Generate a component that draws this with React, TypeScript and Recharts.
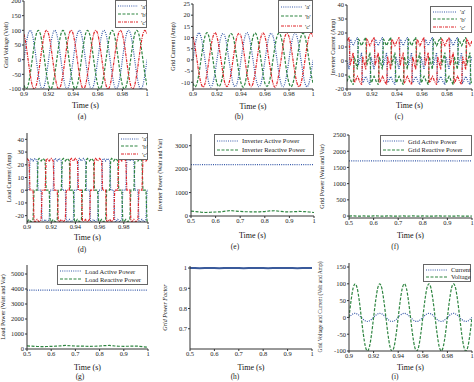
import React from "react";
import { LineChart, Line, XAxis, YAxis } from "recharts";

const FONT = '"Liberation Serif", "DejaVu Serif", serif';
const BLUE = "#3558a8";
const GREEN = "#2e8540";
const RED = "#e0262b";
const DOT = "1 1.2";
const DASH = "3 1.5";
const DASHDOT = "3 1 1 1";

// sample clocks (x values)
const waveTimes30 = Array.from({ length: 61 }, (_, i) => 0.9 + i / 600);
const waveTimes15 = Array.from({ length: 121 }, (_, i) => 0.9 + i / 1200);
const powerTimes = Array.from({ length: 26 }, (_, i) => 0.5 + i * 0.02);

const waveTicks = [0.9, 0.92, 0.94, 0.96, 0.98, 1];
const waveTickLabels = ["0.9", "0.92", "0.94", "0.96", "0.98", "1"];
const powerTicks = [0.5, 0.6, 0.7, 0.8, 0.9, 1];
const powerTickLabels = ["0.5", "0.6", "0.7", "0.8", "0.9", "1"];

const phaseNames = ["'a'", "'b'", "'c'"];

// (a) grid voltage, 30 deg samples
const gridVoltageA = [
  0, 50, 87, 100, 87, 50, 0, -50, -87, -100, -87, -50,
  0, 50, 87, 100, 87, 50, 0, -50, -87, -100, -87, -50,
  0, 50, 87, 100, 87, 50, 0, -50, -87, -100, -87, -50,
  0, 50, 87, 100, 87, 50, 0, -50, -87, -100, -87, -50,
  0, 50, 87, 100, 87, 50, 0, -50, -87, -100, -87, -50,
  0,
];
const gridVoltageB = [
  -87, -100, -87, -50, 0, 50, 87, 100, 87, 50, 0, -50,
  -87, -100, -87, -50, 0, 50, 87, 100, 87, 50, 0, -50,
  -87, -100, -87, -50, 0, 50, 87, 100, 87, 50, 0, -50,
  -87, -100, -87, -50, 0, 50, 87, 100, 87, 50, 0, -50,
  -87, -100, -87, -50, 0, 50, 87, 100, 87, 50, 0, -50,
  -87,
];
const gridVoltageC = [
  87, 50, 0, -50, -87, -100, -87, -50, 0, 50, 87, 100,
  87, 50, 0, -50, -87, -100, -87, -50, 0, 50, 87, 100,
  87, 50, 0, -50, -87, -100, -87, -50, 0, 50, 87, 100,
  87, 50, 0, -50, -87, -100, -87, -50, 0, 50, 87, 100,
  87, 50, 0, -50, -87, -100, -87, -50, 0, 50, 87, 100,
  87,
];

// (b) grid current
const gridCurrentA = [
  0, 6.2, 10.6, 12.1, 10.3, 5.8, 0, -6.1, -10.5, -12.2, -10.2, -5.9,
  0.2, 6.0, 10.3, 11.8, 10.5, 6.1, -0.1, -5.8, -10.4, -11.9, -10.6, -6.2,
  0, 6.1, 10.5, 12.2, 10.4, 5.9, 0.1, -6.0, -10.3, -12.0, -10.5, -6.0,
  -0.1, 5.9, 10.4, 11.9, 10.6, 6.2, 0, -6.2, -10.6, -12.1, -10.3, -5.8,
  0.1, 6.0, 10.4, 12.0, 10.4, 6.0, -0.1, -5.9, -10.4, -12.0, -10.4, -6.1,
  0,
];
const gridCurrentB = [
  -10.4, -12.1, -10.5, -6.0, 0.1, 6.2, 10.6, 12.2, 10.3, 5.8, 0, -6.1,
  -10.5, -11.9, -10.3, -6.2, -0.1, 5.9, 10.4, 11.8, 10.6, 6.1, 0.1, -5.9,
  -10.3, -12.2, -10.6, -5.9, 0, 6.0, 10.3, 12.1, 10.5, 6.2, -0.1, -6.0,
  -10.6, -11.8, -10.4, -6.1, 0.2, 6.1, 10.5, 12.0, 10.4, 5.9, 0, -6.2,
  -10.4, -12.0, -10.4, -6.0, 0, 6.0, 10.4, 12.0, 10.4, 6.0, 0, -6.0,
  -10.4,
];
const gridCurrentC = [
  10.4, 5.9, -0.1, -6.1, -10.4, -12.1, -10.6, -5.9, 0, 6.1, 10.4, 12.2,
  10.3, 5.8, 0.1, -6.0, -10.6, -11.9, -10.3, -6.2, 0, 5.9, 10.5, 11.9,
  10.6, 6.1, 0, -6.2, -10.3, -12.0, -10.5, -6.0, 0.1, 6.2, 10.3, 12.1,
  10.4, 6.0, -0.1, -5.8, -10.5, -12.2, -10.4, -5.9, -0.1, 6.0, 10.6, 11.8,
  10.4, 6.0, 0, -6.0, -10.4, -12.0, -10.4, -6.0, 0, 6.0, 10.4, 12.0,
  10.4,
];

// (c) inverter current, 15 deg samples
const inverterCurrentA = [
  0, -3.1, -6, 15.5, 14.6, 12.4, 11, 12.4, 14.6, 15.5, 17, -3.1, 0, 3.1, 6, -15.5, -14.6, -12.4, -11, -12.4, -14.6, -15.5, -17, 3.1,
  0, -3.1, -6, 15.5, 14.6, 12.4, 11, 12.4, 14.6, 15.5, 17, -3.1, 0, 3.1, 6, -15.5, -14.6, -12.4, -11, -12.4, -14.6, -15.5, -17, 3.1,
  0, -3.1, -6, 15.5, 14.6, 12.4, 11, 12.4, 14.6, 15.5, 17, -3.1, 0, 3.1, 6, -15.5, -14.6, -12.4, -11, -12.4, -14.6, -15.5, -17, 3.1,
  0, -3.1, -6, 15.5, 14.6, 12.4, 11, 12.4, 14.6, 15.5, 17, -3.1, 0, 3.1, 6, -15.5, -14.6, -12.4, -11, -12.4, -14.6, -15.5, -17, 3.1,
  0, -3.1, -6, 15.5, 14.6, 12.4, 11, 12.4, 14.6, 15.5, 17, -3.1, 0, 3.1, 6, -15.5, -14.6, -12.4, -11, -12.4, -14.6, -15.5, -17, 3.1,
  0,
];
const inverterCurrentB = [
  -14.6, -12.4, -11, -12.4, -14.6, -15.5, -17, 3.1, 0, -3.1, -6, 15.5, 14.6, 12.4, 11, 12.4, 14.6, 15.5, 17, -3.1, 0, 3.1, 6, -15.5,
  -14.6, -12.4, -11, -12.4, -14.6, -15.5, -17, 3.1, 0, -3.1, -6, 15.5, 14.6, 12.4, 11, 12.4, 14.6, 15.5, 17, -3.1, 0, 3.1, 6, -15.5,
  -14.6, -12.4, -11, -12.4, -14.6, -15.5, -17, 3.1, 0, -3.1, -6, 15.5, 14.6, 12.4, 11, 12.4, 14.6, 15.5, 17, -3.1, 0, 3.1, 6, -15.5,
  -14.6, -12.4, -11, -12.4, -14.6, -15.5, -17, 3.1, 0, -3.1, -6, 15.5, 14.6, 12.4, 11, 12.4, 14.6, 15.5, 17, -3.1, 0, 3.1, 6, -15.5,
  -14.6, -12.4, -11, -12.4, -14.6, -15.5, -17, 3.1, 0, -3.1, -6, 15.5, 14.6, 12.4, 11, 12.4, 14.6, 15.5, 17, -3.1, 0, 3.1, 6, -15.5,
  -14.6,
];
const inverterCurrentC = [
  14.6, 15.5, 17, -3.1, 0, 3.1, 6, -15.5, -14.6, -12.4, -11, -12.4, -14.6, -15.5, -17, 3.1, 0, -3.1, -6, 15.5, 14.6, 12.4, 11, 12.4,
  14.6, 15.5, 17, -3.1, 0, 3.1, 6, -15.5, -14.6, -12.4, -11, -12.4, -14.6, -15.5, -17, 3.1, 0, -3.1, -6, 15.5, 14.6, 12.4, 11, 12.4,
  14.6, 15.5, 17, -3.1, 0, 3.1, 6, -15.5, -14.6, -12.4, -11, -12.4, -14.6, -15.5, -17, 3.1, 0, -3.1, -6, 15.5, 14.6, 12.4, 11, 12.4,
  14.6, 15.5, 17, -3.1, 0, 3.1, 6, -15.5, -14.6, -12.4, -11, -12.4, -14.6, -15.5, -17, 3.1, 0, -3.1, -6, 15.5, 14.6, 12.4, 11, 12.4,
  14.6, 15.5, 17, -3.1, 0, 3.1, 6, -15.5, -14.6, -12.4, -11, -12.4, -14.6, -15.5, -17, 3.1, 0, -3.1, -6, 15.5, 14.6, 12.4, 11, 12.4,
  14.6,
];

// (d) load current
const loadCurrentA = [
  0, 0, 0, 24, 25, 24, 23, 24, 25, 24, 23, 0, 0, 0, 0, -24, -25, -24, -23, -24, -25, -24, -23, 0,
  0, 0, 0, 24, 25, 24, 23, 24, 25, 24, 23, 0, 0, 0, 0, -24, -25, -24, -23, -24, -25, -24, -23, 0,
  0, 0, 0, 24, 25, 24, 23, 24, 25, 24, 23, 0, 0, 0, 0, -24, -25, -24, -23, -24, -25, -24, -23, 0,
  0, 0, 0, 24, 25, 24, 23, 24, 25, 24, 23, 0, 0, 0, 0, -24, -25, -24, -23, -24, -25, -24, -23, 0,
  0, 0, 0, 24, 25, 24, 23, 24, 25, 24, 23, 0, 0, 0, 0, -24, -25, -24, -23, -24, -25, -24, -23, 0,
  0,
];
const loadCurrentB = [
  -25, -24, -23, -24, -25, -24, -23, 0, 0, 0, 0, 24, 25, 24, 23, 24, 25, 24, 23, 0, 0, 0, 0, -24,
  -25, -24, -23, -24, -25, -24, -23, 0, 0, 0, 0, 24, 25, 24, 23, 24, 25, 24, 23, 0, 0, 0, 0, -24,
  -25, -24, -23, -24, -25, -24, -23, 0, 0, 0, 0, 24, 25, 24, 23, 24, 25, 24, 23, 0, 0, 0, 0, -24,
  -25, -24, -23, -24, -25, -24, -23, 0, 0, 0, 0, 24, 25, 24, 23, 24, 25, 24, 23, 0, 0, 0, 0, -24,
  -25, -24, -23, -24, -25, -24, -23, 0, 0, 0, 0, 24, 25, 24, 23, 24, 25, 24, 23, 0, 0, 0, 0, -24,
  -25,
];
const loadCurrentC = [
  25, 24, 23, 0, 0, 0, 0, -24, -25, -24, -23, -24, -25, -24, -23, 0, 0, 0, 0, 24, 25, 24, 23, 24,
  25, 24, 23, 0, 0, 0, 0, -24, -25, -24, -23, -24, -25, -24, -23, 0, 0, 0, 0, 24, 25, 24, 23, 24,
  25, 24, 23, 0, 0, 0, 0, -24, -25, -24, -23, -24, -25, -24, -23, 0, 0, 0, 0, 24, 25, 24, 23, 24,
  25, 24, 23, 0, 0, 0, 0, -24, -25, -24, -23, -24, -25, -24, -23, 0, 0, 0, 0, 24, 25, 24, 23, 24,
  25, 24, 23, 0, 0, 0, 0, -24, -25, -24, -23, -24, -25, -24, -23, 0, 0, 0, 0, 24, 25, 24, 23, 24,
  25,
];

// (e)-(h) powers, 0.5 .. 1 s
const inverterActive = [2190, 2192, 2188, 2191, 2190, 2193, 2189, 2190, 2192, 2188, 2190, 2191, 2189, 2190, 2192, 2190, 2188, 2191, 2190, 2189, 2192, 2190, 2188, 2191, 2190, 2189];
const inverterReactive = [210, 190, 165, 150, 160, 170, 175, 205, 230, 210, 195, 185, 180, 175, 180, 190, 215, 225, 200, 180, 175, 185, 195, 190, 170, 150];
const gridActive = [1700, 1702, 1698, 1701, 1700, 1699, 1702, 1700, 1698, 1701, 1700, 1702, 1699, 1700, 1701, 1698, 1700, 1702, 1700, 1699, 1701, 1700, 1698, 1702, 1700, 1699];
const gridReactive = [0, 6, -4, 3, -5, 4, 2, -3, 5, 0, -3, 4, -2, 5, -4, 3, 0, -4, 5, -2, 3, -5, 4, 0, -3, 2];
const loadActive = [3920, 3922, 3918, 3921, 3920, 3923, 3919, 3920, 3922, 3918, 3920, 3921, 3919, 3920, 3922, 3920, 3918, 3921, 3920, 3919, 3922, 3920, 3918, 3921, 3920, 3919];
const loadReactive = [205, 190, 170, 160, 165, 175, 190, 210, 235, 215, 200, 190, 185, 180, 185, 200, 225, 235, 205, 185, 180, 185, 195, 185, 150, 120];
const powerFactor = [1, 1, 0.999, 1, 1, 1, 0.999, 1, 1, 1, 1, 0.999, 1, 1, 1, 1, 0.999, 1, 1, 1, 1, 1, 0.999, 1, 1, 1];

type Series = { name: string; values: number[]; color: string; dash?: string; width?: number; curve?: "linear" | "monotone" };
type Box = { L: number; T: number; R: number; B: number };
type LegendCfg = { x: number; y: number; w: number; h: number; sample: number };
type PanelProps = {
  box: Box;
  xs: number[];
  series: Series[];
  xDomain: [number, number];
  xTicks: number[];
  xTickLabels: string[];
  yDomain: [number, number];
  yTicks: number[];
  yLabel: string;
  yLabelX: number;
  yLabelSize?: number;
  yLabelItalic?: boolean;
  timeY: number;
  caption: string;
  captionX: number;
  captionY: number;
  legend?: LegendCfg;
};

const PAD_L = 40;
const PAD_T = 3;
const PAD_R = 3;
const PAD_B = 26;

function LegendBox({ cfg, series }: { cfg: LegendCfg; series: Series[] }) {
  return (
    <div
      style={{
        position: "absolute",
        left: cfg.x,
        top: cfg.y,
        width: cfg.w,
        height: cfg.h,
        background: "#fff",
        border: "0.6px solid #666",
        boxSizing: "border-box",
        display: "flex",
        flexDirection: "column",
        justifyContent: "space-around",
        padding: "1px 2px",
        zIndex: 2,
      }}
    >
      {series.map((s) => (
        <div key={s.name} style={{ display: "flex", alignItems: "center", height: 7 }}>
          <svg width={cfg.sample} height={4} style={{ flex: "none" }}>
            <line x1={0} y1={2} x2={cfg.sample} y2={2} stroke={s.color} strokeWidth={s.width ?? 1.2} strokeDasharray={s.dash} />
          </svg>
          <span style={{ marginLeft: 3, fontSize: 6.5, lineHeight: "7px", whiteSpace: "nowrap", color: "#222" }}>{s.name}</span>
        </div>
      ))}
    </div>
  );
}

function Panel(p: PanelProps) {
  const { box } = p;
  const rows = p.xs.map((t, i) => {
    const row: Record<string, number> = { t };
    p.series.forEach((s) => {
      row[s.name] = s.values[i];
    });
    return row;
  });
  const width = box.R - box.L + PAD_L + PAD_R;
  const height = box.B - box.T + PAD_T + PAD_B;
  const tickStyle = { fontSize: 6.5, fill: "#222", fontFamily: FONT };
  return (
    <>
      <div style={{ position: "absolute", left: box.L - PAD_L, top: box.T - PAD_T }}>
        <LineChart width={width} height={height} data={rows} margin={{ top: PAD_T, right: PAD_R, left: 0, bottom: 0 }}>
          <XAxis
            dataKey="t"
            type="number"
            domain={p.xDomain}
            ticks={p.xTicks}
            interval={0}
            allowDataOverflow
            tickFormatter={(_v: number, i: number) => p.xTickLabels[i]}
            tick={tickStyle}
            tickSize={2}
            tickMargin={0}
            height={PAD_B}
            stroke="#333"
            label={{
              value: "Time (s)",
              position: "insideBottom",
              offset: PAD_B - (p.timeY - box.B) - 5.5,
              style: { fontSize: 8, fill: "#111", fontFamily: FONT },
            }}
          />
          <XAxis xAxisId="top" orientation="top" dataKey="t" type="number" domain={p.xDomain} allowDataOverflow height={0} tick={false} stroke="#333" />
          <YAxis
            type="number"
            domain={p.yDomain}
            ticks={p.yTicks}
            interval={0}
            allowDataOverflow
            tick={tickStyle}
            tickSize={2}
            tickMargin={1}
            width={PAD_L}
            stroke="#333"
            label={{
              value: p.yLabel,
              angle: -90,
              position: "insideLeft",
              offset: p.yLabelX - (box.L - PAD_L),
              style: {
                textAnchor: "middle",
                fontSize: p.yLabelSize ?? 6,
                fontStyle: p.yLabelItalic ? "italic" : "normal",
                fill: "#111",
                fontFamily: FONT,
              },
            }}
          />
          <YAxis yAxisId="right" orientation="right" type="number" domain={p.yDomain} allowDataOverflow width={0} tick={false} stroke="#333" />
          {p.series.map((s) => (
            <Line
              key={s.name}
              dataKey={s.name}
              type={s.curve ?? "linear"}
              stroke={s.color}
              strokeWidth={s.width ?? 1.2}
              strokeDasharray={s.dash}
              dot={false}
              isAnimationActive={false}
            />
          ))}
        </LineChart>
      </div>
      {p.legend && <LegendBox cfg={p.legend} series={p.series} />}
      <div
        style={{
          position: "absolute",
          left: p.captionX - 20,
          width: 40,
          top: p.captionY - 4,
          textAlign: "center",
          fontSize: 7.5,
          lineHeight: "8px",
          color: "#222",
        }}
      >
        {p.caption}
      </div>
    </>
  );
}

const threePhase = (a: number[], b: number[], c: number[], curve: "linear" | "monotone"): Series[] => [
  { name: phaseNames[0], values: a, color: BLUE, dash: DOT, curve },
  { name: phaseNames[1], values: b, color: GREEN, dash: DASH, curve },
  { name: phaseNames[2], values: c, color: RED, dash: DASHDOT, curve },
];

const App: React.FC = () => {
  const wave = { xDomain: [0.9, 1] as [number, number], xTicks: waveTicks, xTickLabels: waveTickLabels };
  const power = { xs: powerTimes, xDomain: [0.5, 1] as [number, number], xTicks: powerTicks, xTickLabels: powerTickLabels };
  return (
    <div
      style={{
        position: "absolute",
        left: 0,
        top: 0,
        width: 474,
        height: 382,
        overflow: "hidden",
        background: "#fff",
        fontFamily: FONT,
      }}
    >
      <Panel
        {...wave}
        box={{ L: 24, T: 1, R: 147, B: 89 }}
        xs={waveTimes30}
        series={threePhase(gridVoltageA, gridVoltageB, gridVoltageC, "monotone")}
        yDomain={[-100, 200]}
        yTicks={[-100, -50, 0, 50, 100, 150, 200]}
        yLabel="Grid Voltage (Volt)"
        yLabelX={6}
        timeY={102}
        caption="(a)"
        captionX={82}
        captionY={117}
        legend={{ x: 115, y: 0, w: 32, h: 28, sample: 20 }}
      />
      <Panel
        {...wave}
        box={{ L: 193, T: 4, R: 313, B: 89 }}
        xs={waveTimes30}
        series={threePhase(gridCurrentA, gridCurrentB, gridCurrentC, "monotone")}
        yDomain={[-13, 25]}
        yTicks={[-10, -5, 0, 5, 10, 15, 20, 25]}
        yLabel="Grid Current (Amp)"
        yLabelX={173}
        timeY={103}
        caption="(b)"
        captionX={239}
        captionY={117}
        legend={{ x: 278, y: 0, w: 35, h: 33, sample: 21 }}
      />
      <Panel
        {...wave}
        box={{ L: 347, T: 5, R: 472, B: 89 }}
        xs={waveTimes15}
        series={threePhase(inverterCurrentA, inverterCurrentB, inverterCurrentC, "linear")}
        yDomain={[-20, 40]}
        yTicks={[-20, -10, 0, 10, 20, 30, 40]}
        yLabel="Inverter Current (Amp)"
        yLabelX={333}
        timeY={102}
        caption="(c)"
        captionX={399}
        captionY={117}
        legend={{ x: 430, y: 6, w: 42, h: 27, sample: 24 }}
      />
      <Panel
        {...wave}
        box={{ L: 27, T: 133, R: 148, B: 222 }}
        xs={waveTimes15}
        series={threePhase(loadCurrentA, loadCurrentB, loadCurrentC, "linear")}
        yDomain={[-25, 45]}
        yTicks={[-20, -10, 0, 10, 20, 30, 40]}
        yLabel="Load Current (Amp)"
        yLabelX={9}
        timeY={234}
        caption="(d)"
        captionX={82}
        captionY={250}
        legend={{ x: 118, y: 133, w: 30, h: 27, sample: 18 }}
      />
      <Panel
        {...power}
        box={{ L: 191, T: 134, R: 314, B: 216 }}
        series={[
          { name: "Inverter Active Power", values: inverterActive, color: BLUE, dash: DOT },
          { name: "Inverter Reactive Power", values: inverterReactive, color: GREEN, dash: DASH },
        ]}
        yDomain={[0, 3500]}
        yTicks={[0, 1000, 2000, 3000]}
        yLabel="Inverter Power (Watt and Var)"
        yLabelX={160}
        timeY={232}
        caption="(e)"
        captionX={235}
        captionY={247}
        legend={{ x: 214, y: 134, w: 100, h: 22, sample: 22 }}
      />
      <Panel
        {...power}
        box={{ L: 349, T: 135, R: 472, B: 218 }}
        series={[
          { name: "Grid Active Power", values: gridActive, color: BLUE, dash: DOT },
          { name: "Grid Reactive Power", values: gridReactive, color: GREEN, dash: DASH },
        ]}
        yDomain={[-60, 2500]}
        yTicks={[0, 500, 1000, 1500, 2000, 2500]}
        yLabel="Grid Power (Watt and Var)"
        yLabelX={322}
        timeY={232}
        caption="(f)"
        captionX={395}
        captionY={247}
        legend={{ x: 380, y: 135, w: 92, h: 21, sample: 22 }}
      />
      <Panel
        {...power}
        box={{ L: 27, T: 265, R: 148, B: 349 }}
        series={[
          { name: "Load Active Power", values: loadActive, color: BLUE, dash: DOT },
          { name: "Load Reactive Power", values: loadReactive, color: GREEN, dash: DASH },
        ]}
        yDomain={[0, 5600]}
        yTicks={[0, 1000, 2000, 3000, 4000, 5000]}
        yLabel="Load Power (Watt and Var)"
        yLabelX={3}
        timeY={364}
        caption="(g)"
        captionX={80}
        captionY={377}
        legend={{ x: 57, y: 265, w: 91, h: 20, sample: 22 }}
      />
      <Panel
        {...power}
        box={{ L: 190, T: 266, R: 312, B: 349 }}
        series={[{ name: "Grid Power Factor", values: powerFactor, color: "#3a5a9b", width: 2 }]}
        yDomain={[0.6, 1.01]}
        yTicks={[0.7, 0.8, 0.9, 1]}
        yLabel="Grid Power Factor"
        yLabelX={165}
        yLabelItalic
        timeY={364}
        caption="(h)"
        captionX={235}
        captionY={377}
      />
      <Panel
        {...wave}
        box={{ L: 349, T: 263, R: 472, B: 351 }}
        xs={waveTimes30}
        series={[
          { name: "Current", values: gridCurrentA, color: BLUE, dash: DOT, curve: "monotone" },
          { name: "Voltage", values: gridVoltageA, color: GREEN, dash: DASH, curve: "monotone" },
        ]}
        yDomain={[-100, 162]}
        yTicks={[-100, -50, 0, 50, 100, 150]}
        yLabel="Grid Voltage and Current (Volt and Amp)"
        yLabelX={320}
        yLabelSize={5.5}
        timeY={364}
        caption="(i)"
        captionX={395}
        captionY={377}
        legend={{ x: 423, y: 264, w: 48, h: 18, sample: 22 }}
      />
    </div>
  );
};

export default App;
